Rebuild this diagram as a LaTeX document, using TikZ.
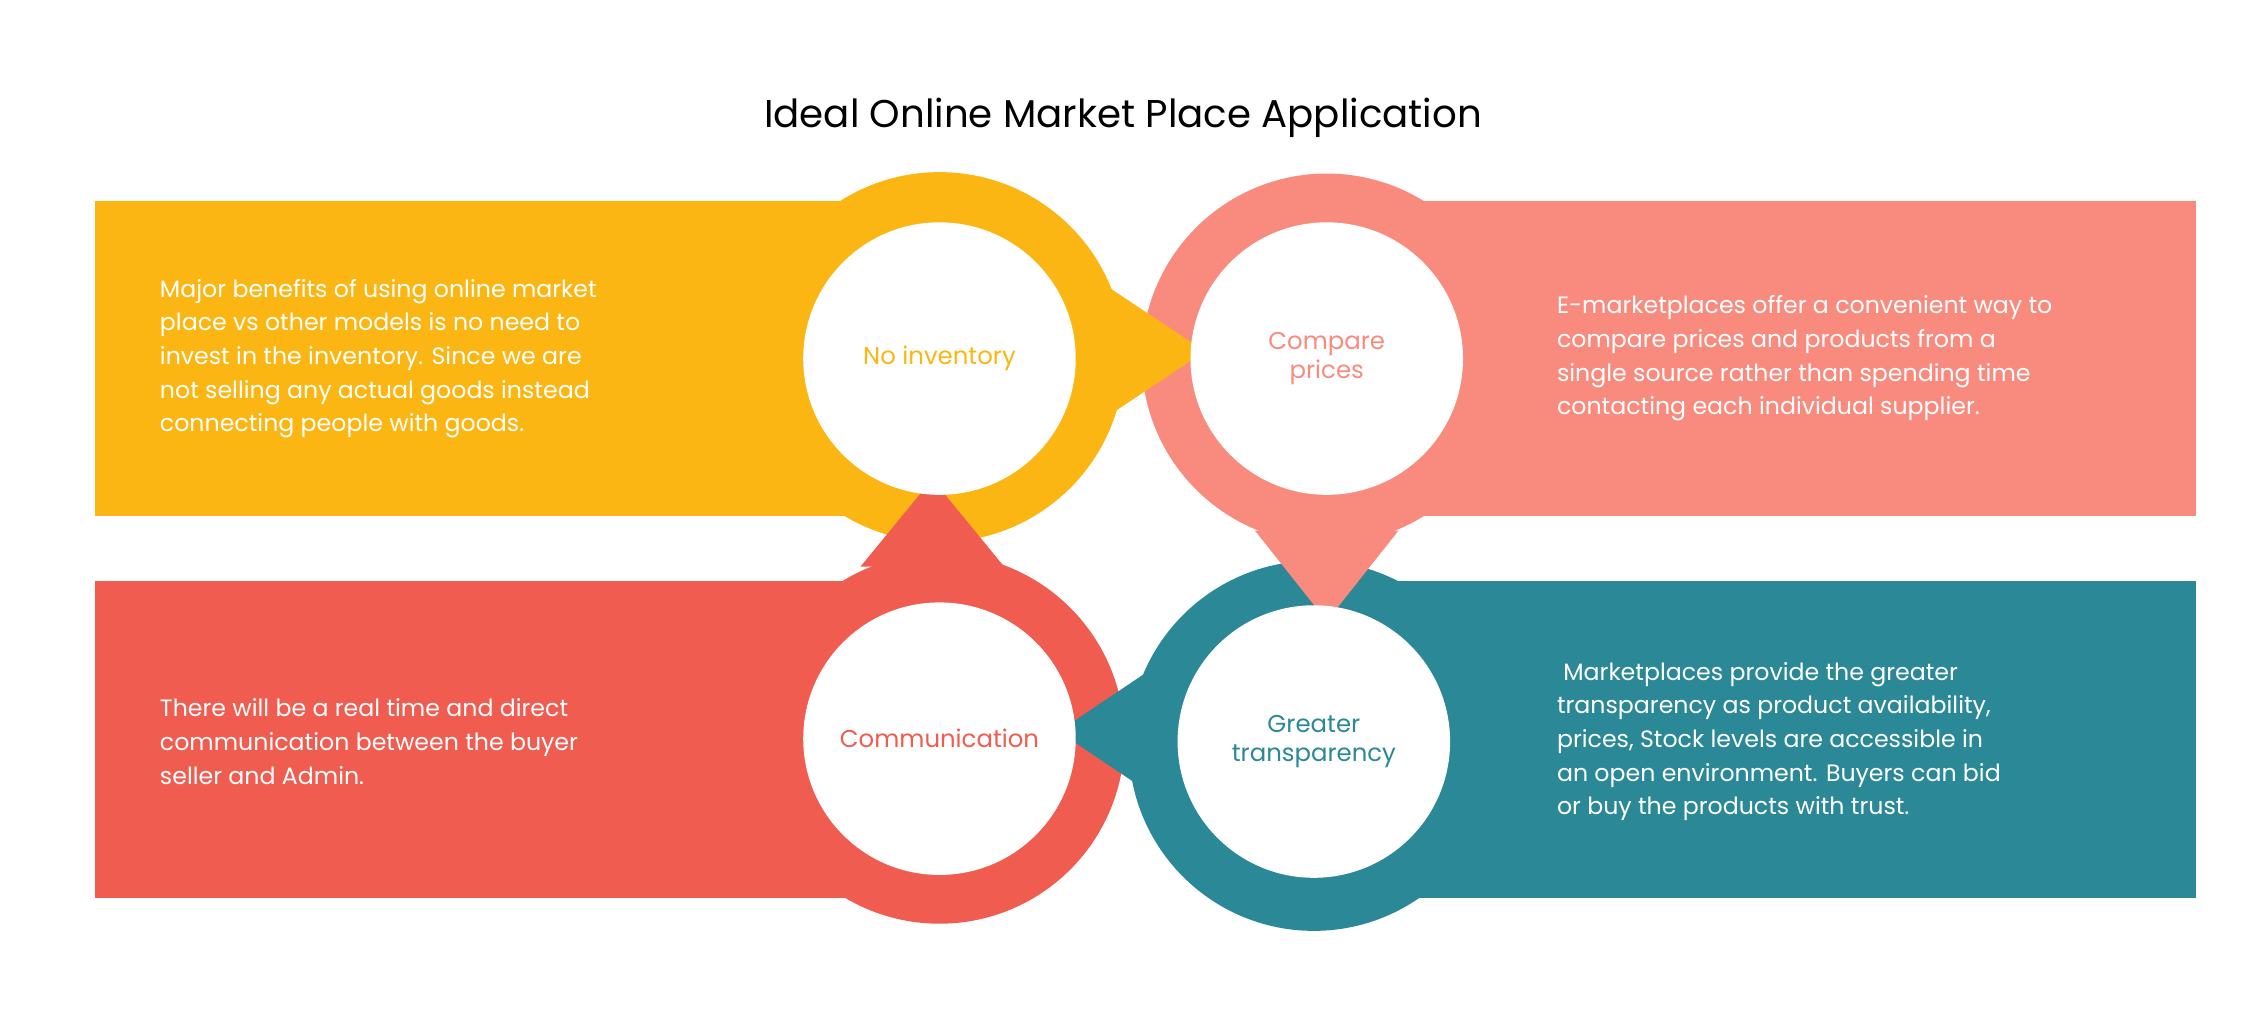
\documentclass[tikz,border=0pt]{standalone}
\usepackage{fontspec}
\setmainfont{Poppins}
\usetikzlibrary{positioning}
\definecolor{cyellow}{HTML}{FBB614}
\definecolor{csalmon}{HTML}{F98A7E}
\definecolor{cred}{HTML}{F05C50}
\definecolor{cteal}{HTML}{2B8896}
\tikzset{
  panel/.style={fill=#1, draw=none},
  ring/.style={circle, fill=#1, minimum size=258pt, inner sep=0pt},
  hub/.style={circle, fill=white, minimum size=190pt, inner sep=0pt, font=\fontsize{17}{20}\selectfont, align=center, text=#1},
  blurb/.style={text=white, align=left, font=\fontsize{16.5}{23.5}\selectfont, anchor=west}
}
\begin{document}
\begin{tikzpicture}[x=1pt,y=-1pt]
  \useasboundingbox (0,0) rectangle (1568,714);
  \node (title) at (783,82) {\fontsize{27}{30}\selectfont Ideal Online Market Place Application};
  % panels
  \fill[panel=cyellow] (66,140) rectangle (650,360);
  \fill[panel=csalmon] (930,140) rectangle (1531,360);
  \fill[panel=cred] (66,405) rectangle (650,626);
  \fill[panel=cteal] (930,405) rectangle (1531,626);
  % rings
  \node[ring=cyellow] (ra) at (655,249) {};
  \node[ring=csalmon] (rb) at (925,250) {};
  \node[ring=cred] (rc) at (655,515) {};
  \node[ring=cteal] (rd) at (916,520) {};
  % pointers
  \fill[cyellow] (765,195) -- (840,245) -- (765,295) -- cycle;
  \fill[csalmon] (875,370) -- (925,433) -- (975,370) -- cycle;
  \fill[cred] (600,395) -- (650,334) -- (700,395) -- cycle;
  \fill[cteal] (805,465) -- (738,510) -- (805,555) -- cycle;
  % hubs
  \node[hub=cyellow] (ha) at (655,250) {No inventory};
  \node[hub=csalmon] (hb) at (925,250) {Compare\\prices};
  \node[hub=cred] (hc) at (655,515) {Communication};
  \node[hub=cteal] (hd) at (916,517) {Greater\\transparency};
  % texts
  \node[blurb] (ta) at (108,250) {Major benefits of using online market\\place vs other models is no need to\\invest in the inventory. Since we are\\not selling any actual goods instead\\connecting people with goods.};
  \node[blurb] (tb) at (1082,250) {E-marketplaces offer a convenient way to\\compare prices and products from a\\single source rather than spending time\\contacting each individual supplier.};
  \node[blurb] (tc) at (108,517) {There will be a real time and direct\\communication between the buyer\\seller and Admin.};
  \node[blurb] (td) at (1082,517) {\ Marketplaces provide the greater\\transparency as product availability,\\prices, Stock levels are accessible in\\an open environment. Buyers can bid\\or buy the products with trust.};
\end{tikzpicture}
\end{document}
